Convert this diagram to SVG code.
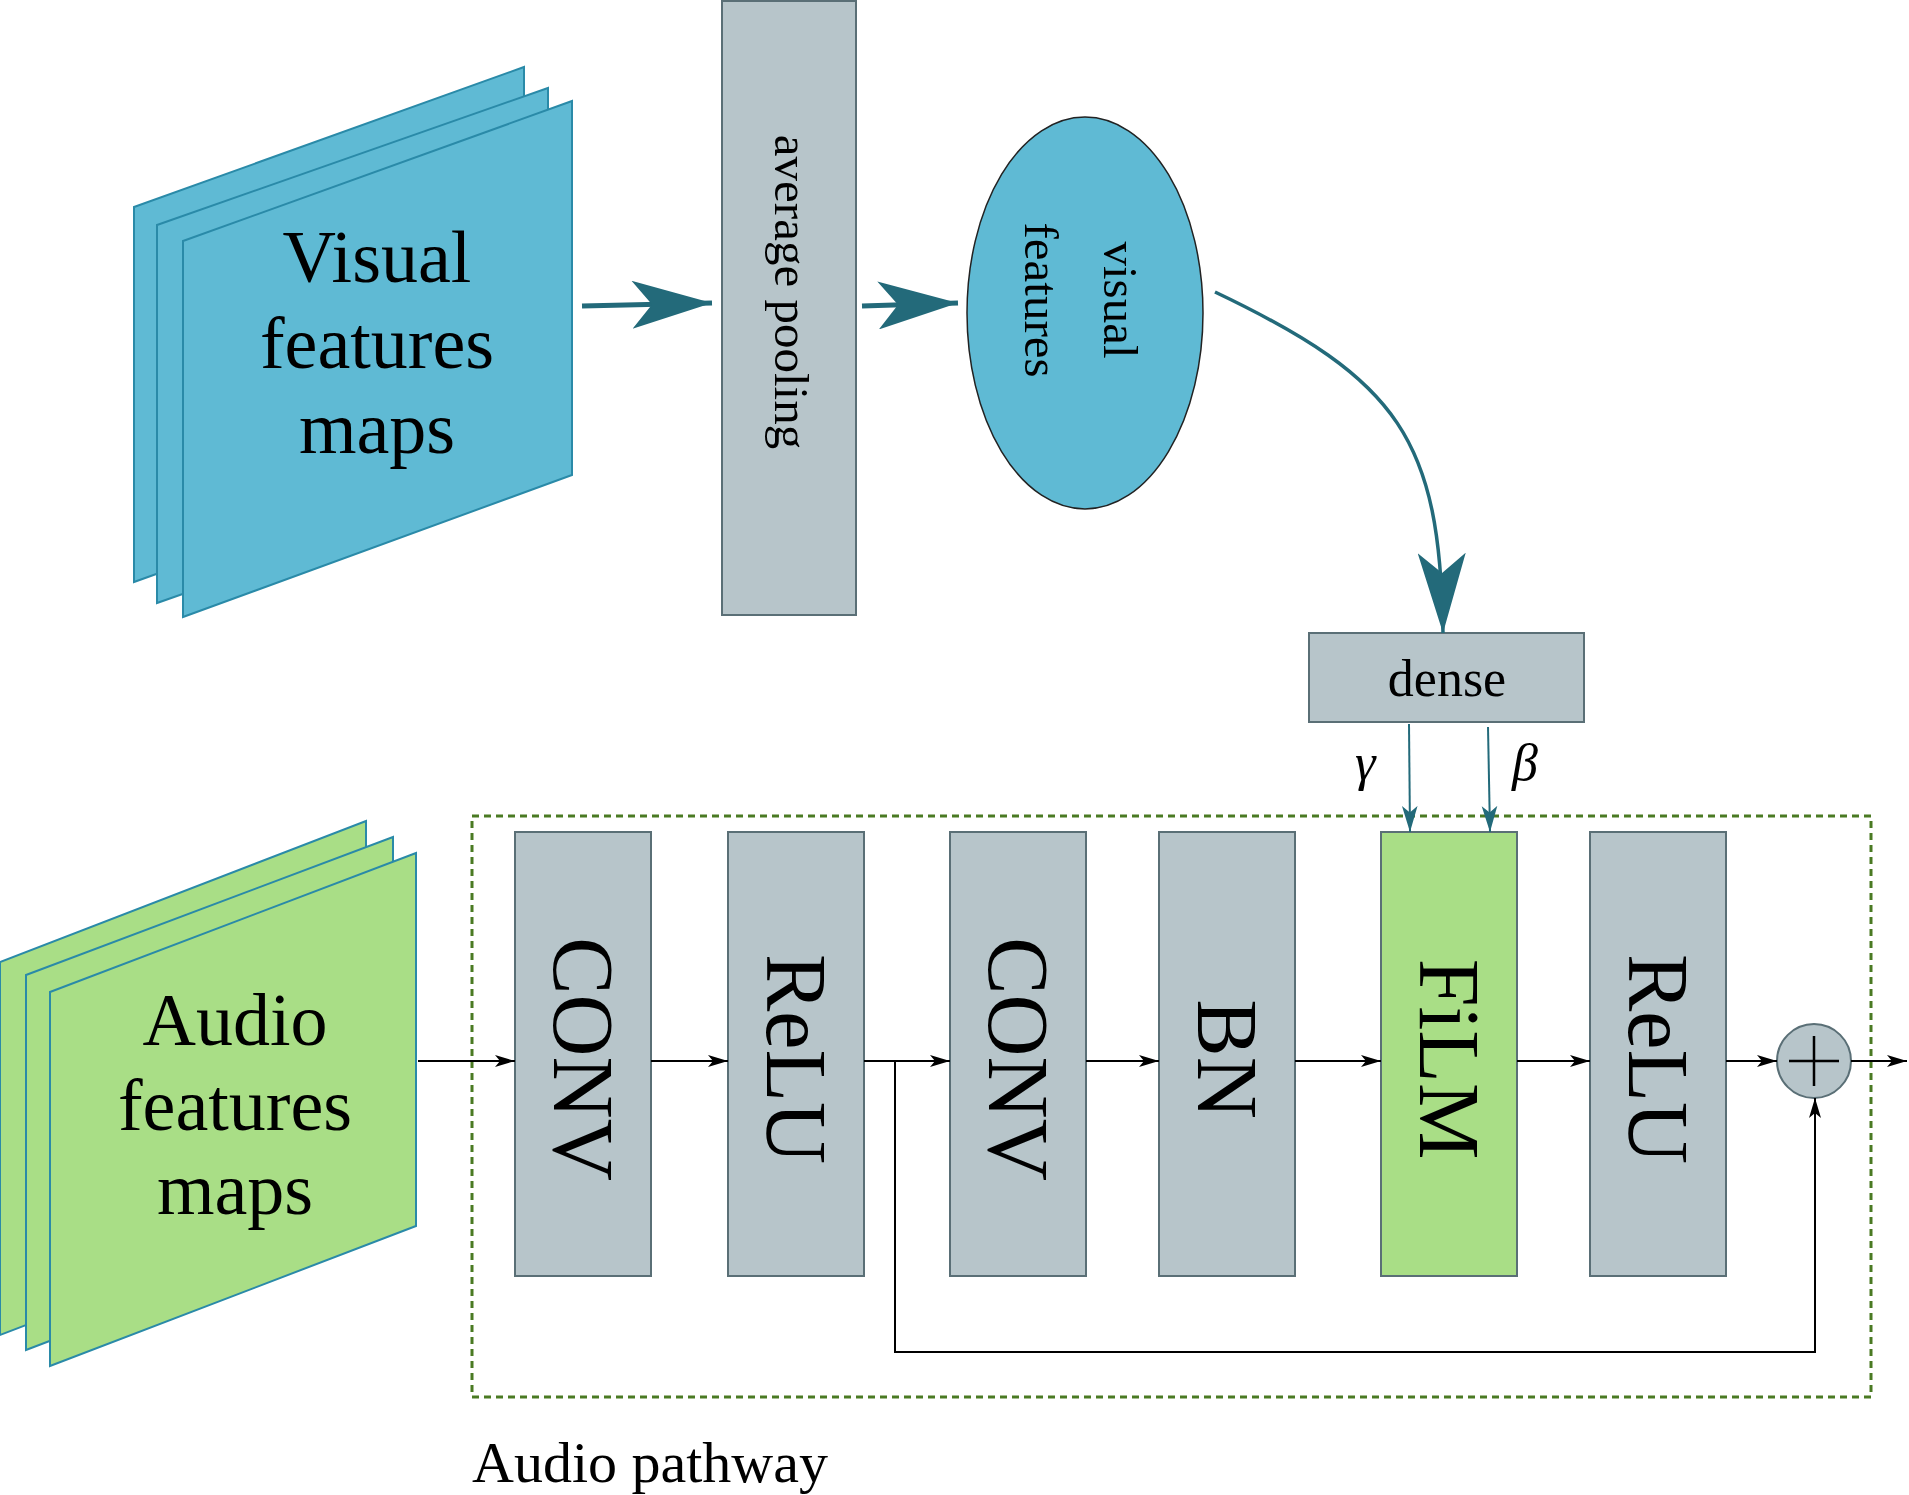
<svg xmlns="http://www.w3.org/2000/svg" width="1909" height="1495" viewBox="0 0 1909 1495">
<style>
text{font-family:"Liberation Serif","DejaVu Serif",serif;fill:#000}
.blk{fill:#b7c5ca;stroke:#5a6f76;stroke-width:2}
.vs{fill:#5fbad4;stroke:#2a8aa8;stroke-width:2}
.as{fill:#a9de86;stroke:#2a8aa8;stroke-width:2}
.bt{font-size:86px;text-anchor:middle}
.k{stroke:#000;stroke-width:2;fill:none}
.t{stroke:#236a7a;fill:none}
</style>
<defs>
<marker id="ab" viewBox="0 0 20 12" refX="20" refY="6" markerWidth="20" markerHeight="12" markerUnits="userSpaceOnUse" orient="auto"><path d="M0,0 L20,6 L0,12 L5,6Z" fill="#000"/></marker>
<marker id="at" viewBox="0 0 20 12" refX="20" refY="6" markerWidth="80" markerHeight="48" markerUnits="userSpaceOnUse" orient="auto"><path d="M0,0 L20,6 L0,12 L5,6Z" fill="#236a7a"/></marker>
<marker id="ats" viewBox="0 0 20 12" refX="20" refY="6" markerWidth="26" markerHeight="48" markerUnits="userSpaceOnUse" orient="auto"><path d="M0,0 L20,6 L0,12 L5,6Z" fill="#236a7a"/></marker>
</defs>
<g id="visual-maps">
<polygon class="vs" points="134,207 524,67 524,442 134,582"/>
<polygon class="vs" points="157,225 548,88 548,466 157,603"/>
<polygon class="vs" points="183,241 572,101 572,475 183,617"/>
<text x="377" y="282" font-size="74" text-anchor="middle">Visual</text>
<text x="377" y="368" font-size="74" text-anchor="middle">features</text>
<text x="377" y="453" font-size="74" text-anchor="middle">maps</text>
</g>
<g id="avg-pool">
<rect class="blk" x="722" y="1" width="134" height="614"/>
<text transform="translate(775,292) rotate(90)" font-size="49" text-anchor="middle">average pooling</text>
</g>
<g id="visual-features">
<ellipse cx="1085" cy="313" rx="118" ry="196" fill="#5fbad4" stroke="#222" stroke-width="1.5"/>
<text transform="translate(1104,300) rotate(90)" font-size="49" text-anchor="middle">visual</text>
<text transform="translate(1025,300) rotate(90)" font-size="49" text-anchor="middle">features</text>
</g>
<g id="dense">
<rect class="blk" x="1309" y="633" width="275" height="89"/>
<text x="1447" y="696" font-size="52" text-anchor="middle">dense</text>
</g>
<g id="audio-pathway">
<rect x="472" y="816" width="1399" height="581" fill="none" stroke="#4a7a23" stroke-width="3" stroke-dasharray="7,5"/>
<text x="472" y="1482" font-size="58">Audio pathway</text>
</g>
<g id="audio-maps">
<polygon class="as" points="0,962 366,821 366,1195 0,1335"/>
<polygon class="as" points="26,975 393,837 393,1210 26,1350"/>
<polygon class="as" points="50,992 416,853 416,1226 50,1366"/>
<text x="235" y="1045" font-size="74" text-anchor="middle">Audio</text>
<text x="235" y="1130" font-size="74" text-anchor="middle">features</text>
<text x="235" y="1214" font-size="74" text-anchor="middle">maps</text>
</g>
<g id="conv1"><rect class="blk" x="515" y="832" width="136" height="444"/><text class="bt" transform="translate(554,1059) rotate(90)">CONV</text></g>
<g id="relu1"><rect class="blk" x="728" y="832" width="136" height="444"/><text class="bt" transform="translate(767,1059) rotate(90)">ReLU</text></g>
<g id="conv2"><rect class="blk" x="950" y="832" width="136" height="444"/><text class="bt" transform="translate(989,1059) rotate(90)">CONV</text></g>
<g id="bn"><rect class="blk" x="1159" y="832" width="136" height="444"/><text class="bt" transform="translate(1198,1059) rotate(90)">BN</text></g>
<g id="film"><rect x="1381" y="832" width="136" height="444" fill="#a9de86" stroke="#5a6f76" stroke-width="2"/><text class="bt" transform="translate(1420,1059) rotate(90)">FiLM</text></g>
<g id="relu2"><rect class="blk" x="1590" y="832" width="136" height="444"/><text class="bt" transform="translate(1629,1059) rotate(90)">ReLU</text></g>
<g id="sum">
<circle cx="1814" cy="1061" r="37" fill="#b7c5ca" stroke="#5a6f76" stroke-width="2"/>
<path d="M1789,1061 H1839 M1814,1036 V1086" stroke="#000" stroke-width="2.5"/>
</g>
<g id="connectors">
<path class="t" stroke-width="5" d="M582,306 L712,303" marker-end="url(#at)"/>
<path class="t" stroke-width="5" d="M862,306 L958,303" marker-end="url(#at)"/>
<path class="t" stroke-width="3.5" d="M1215,292 C1400,380 1440,440 1443,633" marker-end="url(#at)"/>
<path class="t" stroke-width="2" d="M1409,724 L1410,832" marker-end="url(#ats)"/>
<path class="t" stroke-width="2" d="M1488,727 L1490,832" marker-end="url(#ats)"/>
<text x="1355" y="780" font-size="52" font-style="italic">γ</text>
<text x="1512" y="780" font-size="52" font-style="italic">β</text>
<path class="k" d="M418,1061 H515" marker-end="url(#ab)"/>
<path class="k" d="M651,1061 H728" marker-end="url(#ab)"/>
<path class="k" d="M864,1061 H950" marker-end="url(#ab)"/>
<path class="k" d="M1086,1061 H1159" marker-end="url(#ab)"/>
<path class="k" d="M1295,1061 H1381" marker-end="url(#ab)"/>
<path class="k" d="M1517,1061 H1590" marker-end="url(#ab)"/>
<path class="k" d="M1726,1061 H1777" marker-end="url(#ab)"/>
<path class="k" d="M1851,1061 H1907" marker-end="url(#ab)"/>
<path class="k" d="M895,1061 V1352 H1815 V1098" marker-end="url(#ab)"/>
</g>
</svg>
